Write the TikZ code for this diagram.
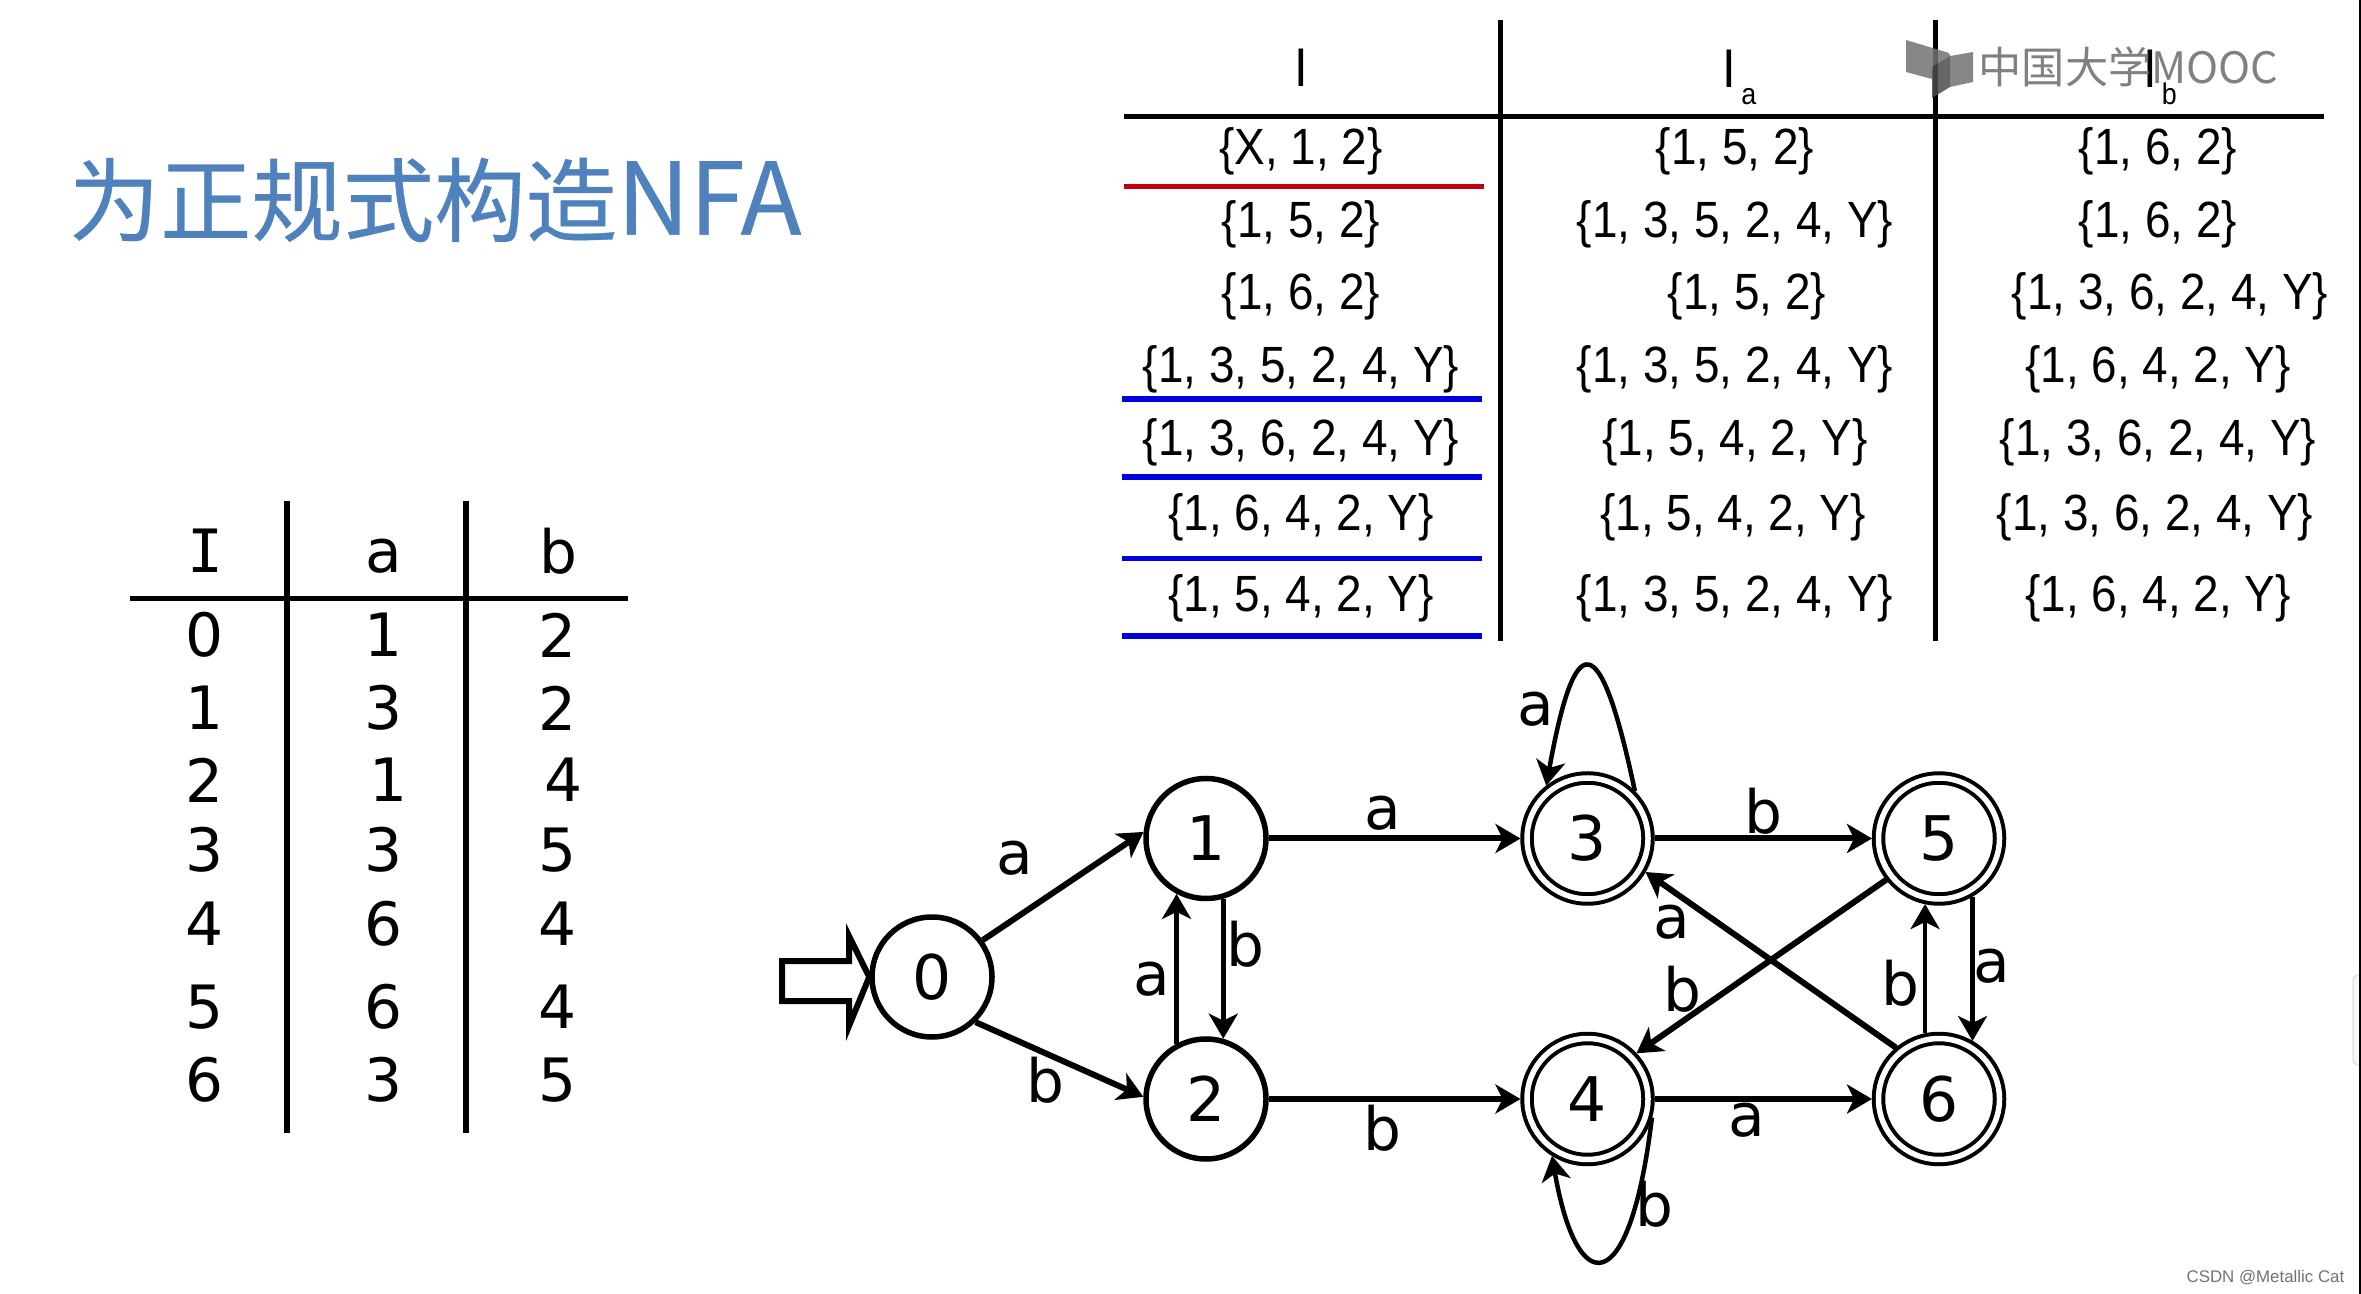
\documentclass[tikz,border=0pt]{standalone}
\usepackage{fontspec}
\usepackage{xcolor}
\usetikzlibrary{arrows.meta}
\newfontfamily\cjkfont{Noto Sans CJK SC}
\newfontfamily\titlefont[FakeBold=0.35]{Noto Sans CJK SC}
\newfontfamily\tabfont[FakeStretch=0.9]{Liberation Sans}
\newfontfamily\markfont{Liberation Sans}
\newfontfamily\dejafont{DejaVu Sans}
\newfontfamily\monofont{DejaVu Sans Mono}
\definecolor{titleblue}{RGB}{79,129,189}
\definecolor{rulered}{RGB}{192,0,10}
\definecolor{ruleblue}{RGB}{0,0,224}

\begin{document}
\begin{tikzpicture}[
    title/.style={inner sep=0pt, anchor=west, text=titleblue, font=\titlefont\fontsize{26}{30}\selectfont},
    cell/.style={inner sep=0pt, font=\tabfont\fontsize{14.5}{16}\selectfont},
    headcell/.style={inner sep=0pt, anchor=base, font=\tabfont\fontsize{15.5}{18}\selectfont},
    nfaval/.style={inner sep=0pt, font=\dejafont\fontsize{17}{20}\selectfont},
    state/.style={circle, draw, line width=0.055cm, minimum size=1.2cm, inner sep=0pt, font=\dejafont\fontsize{17.5}{20}\selectfont},
    final/.style={state, line width=0.04cm, double, double distance=0.055cm, minimum size=1.21cm, outer sep=0.065cm},
    elabel/.style={inner sep=0pt, font=\dejafont\fontsize{17}{20}\selectfont},
    connection/.style={line width=0.06cm, -{Stealth[length=0.25cm,width=0.29cm,inset=0.07cm]}},
    thinconn/.style={line width=0.045cm, -{Stealth[length=0.25cm,width=0.29cm,inset=0.07cm]}},
    tablerule/.style={line width=0.045cm},
    colorrule/.style={line width=0.055cm},
    watermark/.style={inner sep=0pt, anchor=west, text=black!55, opacity=0.9, font=\cjkfont\fontsize{12.3}{14}\selectfont}
]
\useasboundingbox[fill=white] (0,0) rectangle (23.61,-12.94);

% Title
\node[title] (title) at (0.68,-2.00) {为正规式构造{\fontsize{28.5}{30}\selectfont NFA}};

% Left table
\draw[tablerule, line width=0.06cm] (2.865,-5.01) -- (2.865,-11.33);
\draw[tablerule, line width=0.06cm] (4.66,-5.01) -- (4.66,-11.33);
\draw[tablerule, line width=0.05cm] (1.30,-5.99) -- (6.28,-5.99);
\node[nfaval, font=\monofont\fontsize{17}{20}\selectfont] (hI) at (2.05,-5.51) {I};
\node[nfaval] (ha) at (3.84,-5.56) {a};
\node[nfaval] (hb) at (5.58,-5.51) {b};

\node[nfaval] (s0) at (2.05,-6.35) {0};
\node[nfaval] (a0) at (3.84,-6.35) {1};
\node[nfaval] (b0) at (5.58,-6.35) {2};
\node[nfaval] (s1) at (2.05,-7.08) {1};
\node[nfaval] (a1) at (3.84,-7.08) {3};
\node[nfaval] (b1) at (5.58,-7.08) {2};
\node[nfaval] (s2) at (2.05,-7.80) {2};
\node[nfaval] (a2) at (3.89,-7.80) {1};
\node[nfaval] (b2) at (5.63,-7.80) {4};
\node[nfaval] (s3) at (2.05,-8.50) {3};
\node[nfaval] (a3) at (3.84,-8.50) {3};
\node[nfaval] (b3) at (5.58,-8.50) {5};
\node[nfaval] (s4) at (2.05,-9.24) {4};
\node[nfaval] (a4) at (3.84,-9.24) {6};
\node[nfaval] (b4) at (5.58,-9.24) {4};
\node[nfaval] (s5) at (2.05,-10.07) {5};
\node[nfaval] (a5) at (3.84,-10.07) {6};
\node[nfaval] (b5) at (5.58,-10.07) {4};
\node[nfaval] (s6) at (2.05,-10.80) {6};
\node[nfaval] (a6) at (3.84,-10.80) {3};
\node[nfaval] (b6) at (5.58,-10.80) {5};

% Right table
\draw[tablerule] (15.005,-0.20) -- (15.005,-6.41);
\draw[tablerule] (19.355,-0.20) -- (19.355,-6.41);
\draw[tablerule, line width=0.055cm] (11.24,-1.165) -- (23.24,-1.165);
\draw[colorrule, draw=rulered] (11.24,-1.865) -- (14.84,-1.865);
\draw[colorrule, draw=ruleblue] (11.22,-3.99) -- (14.82,-3.99);
\draw[colorrule, draw=ruleblue] (11.22,-4.77) -- (14.82,-4.77);
\draw[colorrule, draw=ruleblue] (11.22,-5.585) -- (14.82,-5.585);
\draw[colorrule, draw=ruleblue] (11.22,-6.36) -- (14.82,-6.36);

\node[headcell] (hd1) at (13.01,-0.87) {I};
\node[headcell] (hd2) at (17.395,-0.88) {I\raisebox{-0.30em}{\fontsize{8.5}{10}\selectfont\,a}};
\node[headcell] (hd3) at (21.60,-0.88) {I\raisebox{-0.30em}{\fontsize{8.5}{10}\selectfont\,b}};

\node[cell] (r1c1) at (13.01,-1.51) {\{X, 1, 2\}};
\node[cell] (r1c2) at (17.35,-1.51) {\{1, 5, 2\}};
\node[cell] (r1c3) at (21.58,-1.51) {\{1, 6, 2\}};
\node[cell] (r2c1) at (13.01,-2.24) {\{1, 5, 2\}};
\node[cell] (r2c2) at (17.35,-2.24) {\{1, 3, 5, 2, 4, Y\}};
\node[cell] (r2c3) at (21.58,-2.24) {\{1, 6, 2\}};
\node[cell] (r3c1) at (13.01,-2.965) {\{1, 6, 2\}};
\node[cell] (r3c2) at (17.47,-2.965) {\{1, 5, 2\}};
\node[cell] (r3c3) at (21.70,-2.965) {\{1, 3, 6, 2, 4, Y\}};
\node[cell] (r4c1) at (13.01,-3.69) {\{1, 3, 5, 2, 4, Y\}};
\node[cell] (r4c2) at (17.35,-3.69) {\{1, 3, 5, 2, 4, Y\}};
\node[cell] (r4c3) at (21.58,-3.69) {\{1, 6, 4, 2, Y\}};
\node[cell] (r5c1) at (13.01,-4.42) {\{1, 3, 6, 2, 4, Y\}};
\node[cell] (r5c2) at (17.35,-4.42) {\{1, 5, 4, 2, Y\}};
\node[cell] (r5c3) at (21.58,-4.42) {\{1, 3, 6, 2, 4, Y\}};
\node[cell] (r6c1) at (13.01,-5.17) {\{1, 6, 4, 2, Y\}};
\node[cell] (r6c2) at (17.33,-5.17) {\{1, 5, 4, 2, Y\}};
\node[cell] (r6c3) at (21.55,-5.17) {\{1, 3, 6, 2, 4, Y\}};
\node[cell] (r7c1) at (13.01,-5.98) {\{1, 5, 4, 2, Y\}};
\node[cell] (r7c2) at (17.35,-5.98) {\{1, 3, 5, 2, 4, Y\}};
\node[cell] (r7c3) at (21.58,-5.98) {\{1, 6, 4, 2, Y\}};

% States
\node[state] (n0) at (9.32,-9.77) {0};
\node[state] (n1) at (12.06,-8.385) {1};
\node[state] (n2) at (12.06,-10.99) {2};
\node[final] (n3) at (15.875,-8.385) {3};
\node[final] (n4) at (15.875,-10.99) {4};
\node[final] (n5) at (19.39,-8.385) {5};
\node[final] (n6) at (19.39,-10.99) {6};

% Start arrow
\draw[line width=0.06cm, fill=white] (7.82,-9.61) -- (8.49,-9.61) -- (8.49,-9.36)
    -- (n0.west) -- (8.49,-10.26) -- (8.49,-10.01) -- (7.82,-10.01) -- cycle;

% Transitions
\path[connection]
    (n0.36) edge node[elabel, xshift=-0.48cm, yshift=0.28cm]{a} (n1.174)
    (n0.-46) edge node[elabel, xshift=-0.14cm, yshift=-0.205cm]{b} (n2.178)
    (n1) edge node[elabel, xshift=-0.12cm, yshift=0.255cm]{a} (n3)
    (n2) edge node[elabel, xshift=-0.12cm, yshift=-0.29cm]{b} (n4)
    (n3) edge node[elabel, yshift=0.275cm]{b} (n5)
    (n4) edge node[elabel, xshift=-0.16cm, yshift=-0.21cm]{a} (n6)
    (n6.130) edge node[elabel, pos=0.75, xshift=-0.365cm, yshift=-0.065cm]{a} (n3.-30)
    (n5.-142) edge node[elabel, pos=0.75, xshift=-0.16cm, yshift=0.21cm]{b} (n4.43);

\path[thinconn]
    (n2.118) edge node[elabel, xshift=-0.25cm, yshift=-0.10cm]{a} (n1.-118)
    (n1.-74) edge node[elabel, xshift=0.22cm, yshift=0.25cm]{b} (n2.74)
    (n6.102) edge node[elabel, xshift=-0.25cm, yshift=-0.14cm]{b} (n5.-102)
    (n5.-60) edge node[elabel, xshift=0.19cm, yshift=0.03cm]{a} (n6.60);

% Self loops
\draw[thinconn] (n3.45) .. controls (16.00,-6.26) and (15.75,-6.26) .. node[elabel, pos=0.75, xshift=-0.32cm, yshift=-0.13cm]{a} (n3.128);
\draw[thinconn] (n4.-16) .. controls (16.30,-13.01) and (15.77,-13.01) .. node[elabel, pos=0.25, xshift=0.235cm, yshift=0.17cm]{b} (n4.-122);

% Logo
\begin{scope}[opacity=0.85]
\fill[black!55] (19.06,-0.40) -- (19.49,-0.53) -- (19.50,-0.56) -- (19.32,-0.67) -- (19.32,-0.79) -- (19.06,-0.72) -- cycle;
\fill[black!70] (19.32,-0.67) -- (19.50,-0.56) -- (19.50,-0.87) -- (19.32,-0.98) -- cycle;
\fill[black!55] (19.50,-0.56) -- (19.73,-0.52) -- (19.73,-0.82) -- (19.50,-0.87) -- cycle;
\end{scope}
\node[watermark] (logo) at (19.78,-0.67) {中国大学MOOC};

% Page furniture
\node[inner sep=0pt, anchor=east, text=black!55, font=\markfont\fontsize{4.8}{6}\selectfont] (csdn) at (23.45,-12.78) {CSDN @Metallic Cat};
\draw[black!12, fill=black!3, rounded corners=0.05cm] (23.60,-9.75) -- (23.53,-9.75) -- (23.53,-10.65) -- (23.60,-10.65);
\fill[black] (23.59,0) rectangle (23.61,-12.94);
\end{tikzpicture}
\end{document}
